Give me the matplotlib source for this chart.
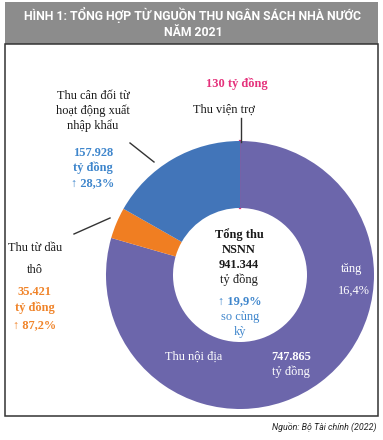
import matplotlib
matplotlib.use("Agg")
import matplotlib.pyplot as plt
from matplotlib.patches import Rectangle
from matplotlib.lines import Line2D

# ---- data ----
categories = ["Thu viện trợ", "Thu nội địa", "Thu từ dầu thô", "Thu cân đối từ hoạt động xuất nhập khẩu"]
values = [130, 747865, 35421, 157928]   # tỷ đồng
colors = ["#E5317B", "#6C66AB", "#F07E22", "#4275B9"]
total_label = "941.344"
growth_total = "19,9%"
growth_xnk = "28,3%"
growth_dau = "87,2%"
growth_noidia = "16,4%"

W, H = 383, 440
fig = plt.figure(figsize=(W / 100, H / 100), dpi=100)
fig.patch.set_facecolor("white")


def fx(x):
    return x / W


def fy(y):
    return 1 - y / H


SERIF = ["Liberation Serif", "DejaVu Serif"]


def txt(x, y, s, size=8.9, color="#1a1a1a", weight="normal", ha="center", family=SERIF, style="normal"):
    fig.text(fx(x), fy(y), s, ha=ha, va="center", fontsize=size, color=color,
             fontweight=weight, family=family, style=style)


# title band
fig.patches.append(Rectangle((fx(5), fy(44)), fx(378) - fx(5), fy(2) - fy(44),
                             transform=fig.transFigure, facecolor="#8C8C8C", edgecolor="none", zorder=0))
# frame
fig.patches.append(Rectangle((fx(5), fy(416)), fx(378) - fx(5), fy(44) - fy(416),
                             transform=fig.transFigure, facecolor="none", edgecolor="#333333",
                             linewidth=1.1, zorder=5))

fig.text(fx(193), fy(15), "HÌNH 1: TỔNG HỢP TỪ NGUỒN THU NGÂN SÁCH NHÀ NƯỚC", ha="center", va="center",
         fontsize=8.8, color="white", fontweight="bold", family="Roboto")
fig.text(fx(193), fy(32), "NĂM 2021", ha="center", va="center",
         fontsize=8.8, color="white", fontweight="bold", family="Roboto")

# donut
cx, cy, r = 240, 275, 134
ax = fig.add_axes([fx(cx - r), fy(cy + r), (2 * r) / W, (2 * r) / H])
wedges, _ = ax.pie(values, colors=colors, startangle=90, counterclock=False, radius=1,
                   wedgeprops=dict(width=0.5, edgecolor="none"))
wedges[0].set_edgecolor(colors[0])
wedges[0].set_linewidth(1.6)
ax.set_xlim(-1, 1)
ax.set_ylim(-1, 1)
ax.set_aspect("equal")
ax.axis("off")

# leader lines
for (x0, y0, x1, y1) in [(241, 118, 241, 142), (130, 143, 154, 162), (74, 234, 110, 218)]:
    fig.add_artist(Line2D([fx(x0), fx(x1)], [fy(y0), fy(y1)], transform=fig.transFigure,
                          color="#333333", linewidth=1.0))

# labels: viện trợ
txt(237, 84, "130 tỷ đồng", color="#E5317B", weight="bold")
txt(224, 110, "Thu viện trợ")

# XNK
txt(93, 96, "Thu cân đối từ")
txt(93, 111, "hoạt động xuất")
txt(93, 126, "nhập khẩu")
BLUE = "#3F86CC"
txt(93, 153, "157.928", color=BLUE, weight="bold")
txt(93, 168, "tỷ đồng", color=BLUE, weight="bold")
txt(93, 183, "↑ " + growth_xnk, color=BLUE, weight="bold")

# dầu thô
txt(35, 248, "Thu từ dầu")
txt(35, 270, "thô")
ORANGE = "#F0842A"
txt(35, 292, "35.421", color=ORANGE, weight="bold")
txt(35, 308, "tỷ đồng", color=ORANGE, weight="bold")
txt(35, 325, "↑ " + growth_dau, color=ORANGE, weight="bold")

# center
txt(239, 235, "Tổng thu", weight="bold")
txt(239, 250, "NSNN", weight="bold")
txt(239, 265, total_label, weight="bold")
txt(239, 280, "tỷ đồng")
txt(240, 301, "↑ " + growth_total, color=BLUE, weight="bold")
txt(240, 317, "so cùng", color=BLUE)
txt(240, 332, "kỳ", color=BLUE)

# nội địa
txt(352, 269, "tăng", color="white")
txt(354, 291, growth_noidia, color="white")
txt(194, 357, "Thu nội địa", color="white")
txt(291, 357, "747.865", color="white", weight="bold")
txt(291, 372, "tỷ đồng", color="white")

# source
fig.text(fx(377), fy(428), "Nguồn: Bộ Tài chính (2022)", ha="right", va="center", fontsize=6.4,
         color="#222222", style="italic", family="Roboto")

fig.savefig("out.png", dpi=100)
